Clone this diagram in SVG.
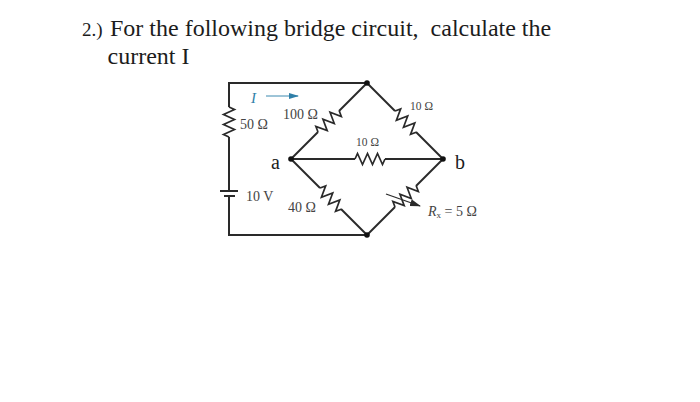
<svg xmlns="http://www.w3.org/2000/svg" width="700" height="402" viewBox="0 0 700 402">
<style>
.w{fill:none;stroke:#2a2a2a;stroke-width:2;stroke-linejoin:miter}
.r{fill:none;stroke:#2a2a2a;stroke-width:1.7}
.t{font-family:"Liberation Serif","Times New Roman",serif;fill:#1c1c1c}
.s{font-family:"Liberation Serif","Times New Roman",serif;fill:#444;font-size:14px}
.d{fill:#111}
</style>
<defs>
<path id="res" d="M0 0L2.5-5.5L7.5 5.5L12.5-5.5L17.5 5.5L22.5-5.5L27.5 5.5L30 0"/>
<marker id="blue" markerWidth="10" markerHeight="7" refX="9" refY="3" orient="auto" markerUnits="userSpaceOnUse"><path d="M0 0L10 3L0 6Z" fill="#2f7fa8"/></marker>
<marker id="blk" markerWidth="11" markerHeight="8" refX="10" refY="3.5" orient="auto" markerUnits="userSpaceOnUse"><path d="M0 0L11 3.5L0 7Z" fill="#2a2a2a"/></marker>
</defs>
<rect width="700" height="402" fill="#fff"/>
<g id="title">
<text class="t" x="82" y="36" font-size="19">2.)</text>
<text class="t" x="110" y="36" font-size="24" xml:space="preserve">For the following bridge circuit,  calculate the</text>
<text class="t" x="107.5" y="64" font-size="24">current I</text>
</g>
<g id="connectors">
<path class="w" d="M229 107V83H367"/>
<path class="w" d="M229 137V191"/>
<path class="w" d="M229 196V235H367"/>
<path class="w" d="M291 159L318 132"/>
<path class="w" d="M339 111L367 83"/>
<path class="w" d="M291 159L320 188"/>
<path class="w" d="M341 209L367 235"/>
<path class="w" d="M367 83L395 111"/>
<path class="w" d="M416 132L443 159"/>
<path class="w" d="M291 159H355"/>
<path class="w" d="M385 159H443"/>
<path class="w" d="M367 235L395 207"/>
<path class="w" d="M416 186L443 159"/>
<path d="M266 96H298" fill="none" stroke="#3d8ab0" stroke-width="1" marker-end="url(#blue)"/>
</g>
<g id="source-50"><use href="#res" class="r" transform="translate(229 107) rotate(90)"/><text class="s" x="240" y="129">50 Ω</text></g>
<g id="battery"><path class="w" d="M220 191H238M224 196H235"/><text class="s" x="246" y="201">10 V</text></g>
<g id="r-100"><use href="#res" class="r" transform="translate(318 132) rotate(-45)"/><text class="s" x="283" y="119">100 Ω</text></g>
<g id="r-40"><use href="#res" class="r" transform="translate(320 188) rotate(45)"/><text class="s" x="288" y="212">40 Ω</text></g>
<g id="r-10-top"><use href="#res" class="r" transform="translate(395 111) rotate(45)"/><text class="s" x="410" y="110" style="font-size:11.5px">10 Ω</text></g>
<g id="r-10-mid"><use href="#res" class="r" transform="translate(355 159)"/><text class="s" x="356" y="146" style="font-size:11.5px">10 Ω</text></g>
<g id="r-x"><use href="#res" class="r" transform="translate(395 207) rotate(-45)"/><path d="M386 194L420 206" fill="none" stroke="#2a2a2a" stroke-width="1.3" marker-end="url(#blk)"/><text class="s" x="428" y="216"><tspan font-style="italic">R</tspan><tspan font-size="9" dy="2">x</tspan><tspan dy="-2"> = 5 Ω</tspan></text></g>
<g id="node-top"><circle class="d" cx="367" cy="83" r="2.8"/></g>
<g id="node-bottom"><circle class="d" cx="367" cy="235" r="2.8"/></g>
<g id="node-a"><circle class="d" cx="291" cy="159" r="2.8"/><text class="t" x="271" y="169" font-size="20">a</text></g>
<g id="node-b"><circle class="d" cx="443" cy="159" r="2.8"/><text class="t" x="455" y="169" font-size="20">b</text></g>
<g id="current"><text x="251" y="103" font-family="Liberation Serif,serif" font-style="italic" font-size="15" fill="#2f7fa8">I</text></g>
</svg>
